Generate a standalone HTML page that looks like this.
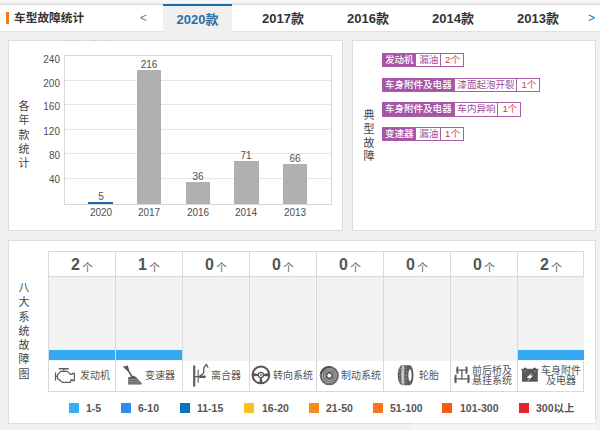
<!DOCTYPE html>
<html lang="zh-CN">
<head>
<meta charset="utf-8">
<title>车型故障统计</title>
<style>
*{margin:0;padding:0;box-sizing:border-box;}
html,body{width:600px;height:430px;overflow:hidden;background:#f0f0f0;}
body{position:relative;font-family:"Liberation Sans","Noto Sans CJK SC",sans-serif;color:#333;}
.abs{position:absolute;}
#topstrip{left:0;top:0;width:600px;height:4px;background:linear-gradient(#f6f6f6 0 3px,#e9e9e9 3px 4px);}
#topline{left:0;top:4px;width:600px;height:1px;background:#dcdcdc;}
#header{left:0;top:5px;width:600px;height:26px;background:#fff;}
#hline{left:0;top:31px;width:600px;height:1px;background:#e0e0e0;}
#obar{left:5.6px;top:12px;width:3.4px;height:12px;background:#ee7a1c;}
#title{left:14px;top:9px;font-size:11.7px;line-height:18px;font-weight:bold;color:#333;white-space:nowrap;}
.tab{top:5px;width:69px;height:26px;text-align:center;font-size:13px;line-height:28px;font-weight:bold;color:#333;white-space:nowrap;}
.tab.on{top:4px;height:28px;border-top:2px solid #1a6fb0;background:#f0f0f0;color:#2a6fa8;line-height:27px;}
.arrow{font-size:12px;line-height:14px;top:11px;}
.panel{background:#fff;border:1px solid #dcdcdc;}
.vlabel{font-size:11px;width:12px;text-align:center;color:#444;}
.vlabel span{display:block;}
/* chart */
.ylab{font-size:10px;line-height:10px;width:30px;text-align:right;color:#505050;}
.xlab{font-size:10px;line-height:10px;width:40px;text-align:center;color:#505050;}
.vlab{font-size:10px;line-height:10px;width:40px;text-align:center;color:#505050;}
.grid{left:65px;width:266px;height:1px;background:#e6e6e6;}
.bar{background:#b0b0b0;width:24.4px;}
/* tags */
.tag{height:14.4px;display:flex;font-size:9.56px;line-height:12.4px;white-space:nowrap;}
.tag span{display:block;height:14.4px;border:1px solid #a95ca8;}
.tag .a{background:#a854a6;color:#fff;padding:0 1.9px;font-weight:500;}
.tag .b{background:#fff;color:#9a4f9a;border-left:none;padding:0 1.75px 0 2.75px;}
.tag .c{background:#fff;color:#d03a34;border-left:none;padding:0 3.1px 0 4.1px;}
/* systems */
#sys{left:48px;top:251px;width:536px;height:141px;border:1px solid #d9d9d9;background:#fff;}
.col{top:0;width:67px;height:139px;border-right:1px solid #d9d9d9;}
.cnt{left:0;top:0;width:66px;height:25px;padding-left:0;border-bottom:1px solid #d9d9d9;text-align:center;white-space:nowrap;}
.cnt b{font-size:16px;line-height:25px;color:#555;}
.cnt i{font-style:normal;font-size:11px;color:#666;margin-left:2px;position:relative;top:1.5px;}
.dots{left:0;top:25px;width:66px;height:84px;background-color:#f8f8f8;
 background-image:linear-gradient(#f0f0f0 1px,transparent 1px),linear-gradient(90deg,#f0f0f0 1px,transparent 1px);background-size:2px 2px;}
.blue{left:0;top:98px;width:66px;height:10px;background:#36a9f4;}
.lab{font-size:10px;line-height:10px;color:#555;white-space:nowrap;}
.lg{top:403px;width:10px;height:10px;}
.lt{top:402px;font-size:10.5px;line-height:12px;font-weight:bold;color:#555;white-space:nowrap;}
</style>
</head>
<body>
<div class="abs" id="topstrip"></div>
<div class="abs" id="topline"></div>
<div class="abs" id="header"></div>
<div class="abs" id="hline"></div>
<div class="abs" id="obar"></div>
<div class="abs" id="title">车型故障统计</div>
<div class="abs arrow" style="left:140px;color:#7a7a7a;">&lt;</div>
<div class="abs tab on" style="left:163px;">2020款</div>
<div class="abs tab" style="left:248.5px;">2017款</div>
<div class="abs tab" style="left:333.5px;">2016款</div>
<div class="abs tab" style="left:418.5px;">2014款</div>
<div class="abs tab" style="left:503.5px;">2013款</div>
<div class="abs arrow" style="left:588px;color:#2a6fa8;">&gt;</div>

<!-- panel 1: chart -->
<div class="abs panel" style="left:8px;top:39.5px;width:335px;height:191.5px;"></div>
<div class="abs" style="left:67px;top:40px;width:46px;height:1px;background:linear-gradient(90deg,#cfcfcf 0 3px,transparent 3px 9px,#cfcfcf 9px 12px,transparent 12px 26px,#cfcfcf 26px 29px,transparent 29px 36px,#cfcfcf 36px 39px,transparent 39px);"></div>
<div class="abs vlabel" style="left:18px;top:99px;line-height:14.3px;"><span>各</span><span>年</span><span>款</span><span>统</span><span>计</span></div>
<div class="abs" style="left:64px;top:55px;width:268px;height:150px;border:1px solid #d8d8d8;"></div>
<div class="abs grid" style="top:80px;"></div>
<div class="abs grid" style="top:104px;"></div>
<div class="abs grid" style="top:129px;"></div>
<div class="abs grid" style="top:153px;"></div>
<div class="abs grid" style="top:178px;"></div>
<div class="abs ylab" style="left:30px;top:55px;">240</div>
<div class="abs ylab" style="left:30px;top:79px;">200</div>
<div class="abs ylab" style="left:30px;top:102px;">160</div>
<div class="abs ylab" style="left:30px;top:127px;">120</div>
<div class="abs ylab" style="left:30px;top:151px;">80</div>
<div class="abs ylab" style="left:30px;top:175px;">40</div>
<div class="abs bar" style="left:88.4px;top:201.6px;height:2.9px;background:#1b6fae;"></div>
<div class="abs bar" style="left:137px;top:70.4px;height:133.6px;"></div>
<div class="abs bar" style="left:185.6px;top:182.3px;height:21.7px;"></div>
<div class="abs bar" style="left:234.2px;top:160.8px;height:43.2px;"></div>
<div class="abs bar" style="left:282.7px;top:164px;height:40px;"></div>
<div class="abs vlab" style="left:81px;top:192px;">5</div>
<div class="abs vlab" style="left:129px;top:60px;">216</div>
<div class="abs vlab" style="left:178px;top:172px;">36</div>
<div class="abs vlab" style="left:226px;top:151px;">71</div>
<div class="abs vlab" style="left:275px;top:154px;">66</div>
<div class="abs xlab" style="left:81px;top:208px;">2020</div>
<div class="abs xlab" style="left:129px;top:208px;">2017</div>
<div class="abs xlab" style="left:178px;top:208px;">2016</div>
<div class="abs xlab" style="left:226px;top:208px;">2014</div>
<div class="abs xlab" style="left:275px;top:208px;">2013</div>

<!-- panel 2: typical faults -->
<div class="abs panel" style="left:352px;top:39.5px;width:244px;height:191.5px;"></div>
<div class="abs vlabel" style="left:363px;top:109px;line-height:13.8px;"><span>典</span><span>型</span><span>故</span><span>障</span></div>
<div class="abs tag" style="left:382px;top:53px;"><span class="a">发动机</span><span class="b">漏油</span><span class="c">2个</span></div>
<div class="abs tag" style="left:382px;top:77.5px;"><span class="a">车身附件及电器</span><span class="b">漆面起泡开裂</span><span class="c">1个</span></div>
<div class="abs tag" style="left:382px;top:102.2px;"><span class="a">车身附件及电器</span><span class="b">车内异响</span><span class="c">1个</span></div>
<div class="abs tag" style="left:382px;top:126.6px;"><span class="a">变速器</span><span class="b">漏油</span><span class="c">1个</span></div>

<!-- panel 3: eight systems -->
<div class="abs panel" style="left:8px;top:240px;width:588px;height:184px;"></div>
<div class="abs vlabel" style="left:18px;top:281px;line-height:14.3px;"><span>八</span><span>大</span><span>系</span><span>统</span><span>故</span><span>障</span><span>图</span></div>
<div class="abs" id="sys">
  <div class="abs col" style="left:0;"><div class="abs cnt"><b>2</b><i>个</i></div><div class="abs dots"></div><div class="abs blue"></div></div>
  <div class="abs col" style="left:67px;"><div class="abs cnt"><b>1</b><i>个</i></div><div class="abs dots"></div><div class="abs blue"></div></div>
  <div class="abs col" style="left:134px;"><div class="abs cnt"><b>0</b><i>个</i></div><div class="abs dots"></div></div>
  <div class="abs col" style="left:201px;"><div class="abs cnt"><b>0</b><i>个</i></div><div class="abs dots"></div></div>
  <div class="abs col" style="left:268px;"><div class="abs cnt"><b>0</b><i>个</i></div><div class="abs dots"></div></div>
  <div class="abs col" style="left:335px;"><div class="abs cnt"><b>0</b><i>个</i></div><div class="abs dots"></div></div>
  <div class="abs col" style="left:402px;"><div class="abs cnt"><b>0</b><i>个</i></div><div class="abs dots"></div></div>
  <div class="abs col" style="left:469px;border-right:none;width:65px;"><div class="abs cnt"><b>2</b><i>个</i></div><div class="abs dots"></div><div class="abs blue"></div></div>
</div>
<div class="abs lab" style="left:80px;top:371px;">发动机</div>
<div class="abs lab" style="left:145px;top:371px;">变速器</div>
<div class="abs lab" style="left:211px;top:371px;">离合器</div>
<div class="abs lab" style="left:273px;top:371px;">转向系统</div>
<div class="abs lab" style="left:341px;top:371px;">制动系统</div>
<div class="abs lab" style="left:419px;top:371px;">轮胎</div>
<div class="abs lab" style="left:472px;top:365.5px;">前后桥及<br>悬挂系统</div>
<div class="abs lab" style="left:541px;top:365.5px;text-align:center;">车身附件<br>及电器</div>


<!-- icons -->
<svg class="abs" style="left:48px;top:360px;" width="537" height="31" viewBox="48 360 537 31">
  <!-- engine -->
  <g fill="none" stroke="#5e5e5e" stroke-width="1.25" stroke-linejoin="round" stroke-linecap="round">
    <path d="M59.4 368.8H68.2" stroke-width="1.6"/>
    <path d="M63.8 369V371.2"/>
    <path d="M55.5 372.8V380"/>
    <path d="M55.6 376.4H57.4"/>
    <path d="M57.5 374.6L60.7 371.4H67.2L70.4 374.3H72.3V373.3H74.4V380.6H72.3V379.6H71.1L70.4 382.3H62.3L57.5 378.5Z"/>
  </g>
  <!-- gear lever -->
  <g fill="#585858" stroke="none">
    <path d="M122.8 366.7L127.8 365.4L129.2 370.4L127.4 370.9Z"/>
    <path d="M126.6 369.6L128.2 368.9L132.8 376.2L131.4 377Z"/>
    <path d="M128.2 377.6L133.4 375.8L136 377L141.6 383.2V384.6H128.2Z"/>
  </g>
  <g stroke="#b0b0b0" stroke-width="0.7">
    <path d="M128.4 379.4H137.4M128.4 381.2H139.4M128.4 383H141"/>
  </g>
  <!-- clutch -->
  <g fill="none" stroke="#5a5a5a" stroke-linecap="round" stroke-linejoin="round">
    <path d="M194.2 366.4V385.8" stroke-width="2.3" stroke="#666"/>
    <path d="M198.2 370.2V382.2" stroke-width="1.4" stroke="#808080"/>
    <path d="M194.5 376.6H200" stroke-width="1.2"/>
    <path d="M200 376.7H204.6" stroke-width="2.4"/>
    <path d="M200.4 375.6L203.6 373.2L203.9 367.6L206.3 364.4L207.9 367.2" stroke-width="1.3"/>
  </g>
  <!-- steering wheel -->
  <g fill="none" stroke="#555">
    <circle cx="260.9" cy="374.9" r="8.4" stroke-width="2"/>
    <circle cx="260.9" cy="374.9" r="2.6" stroke-width="1.2"/>
  </g>
  <g fill="#555" stroke="none">
    <circle cx="260.9" cy="374.9" r="0.9"/>
    <path d="M252.6 373L258.2 373.9V375.9L252.6 376.4Z"/>
    <path d="M269.2 373L263.6 373.9V375.9L269.2 376.4Z"/>
    <path d="M259.9 377.6H261.9L262.5 383.2H259.3Z"/>
  </g>
  <!-- brake disc -->
  <g>
    <circle cx="329.3" cy="375.6" r="9.6" fill="#6a6a6a"/>
    <path d="M319.9 373.4A9.6 9.6 0 0 1 331 366.1L330.5 368.9A6.8 6.8 0 0 0 322.7 374Z" fill="#4e4e4e"/>
    <circle cx="329.3" cy="375.6" r="7" fill="none" stroke="#bdbdbd" stroke-width="0.9"/>
    <circle cx="329.3" cy="375.6" r="4.9" fill="none" stroke="#c6c6c6" stroke-width="0.9"/>
    <circle cx="329.3" cy="375.6" r="4.4" fill="#747474"/>
    <circle cx="329.3" cy="375.6" r="1.8" fill="#fff"/>
    <g fill="#3c3c3c"><circle cx="329.3" cy="372.5" r="0.65"/><circle cx="332" cy="374.1" r="0.65"/><circle cx="332" cy="377.2" r="0.65"/><circle cx="329.3" cy="378.7" r="0.65"/><circle cx="326.6" cy="377.2" r="0.65"/><circle cx="326.6" cy="374.1" r="0.65"/></g>
  </g>
  <!-- tire -->
  <g>
    <path d="M402.2 365.2H409.8V385.2H402.2A4.5 10 0 0 1 402.2 365.2Z" fill="#5e5e5e"/>
    <path d="M402.4 365.7H404.3V384.7H402.4A1.3 9.5 0 0 1 402.4 365.7Z" fill="#c2c2c2"/>
    <ellipse cx="409.9" cy="375.2" rx="3.6" ry="10" fill="#5e5e5e"/>
    <ellipse cx="410" cy="375.3" rx="1.6" ry="6" fill="#fff"/>
    <g stroke="#b4b4b4" stroke-width="0.8"><path d="M399.4 368.6H400.6M398.9 372H400.1M398.7 375.4H399.9M398.9 378.8H400.1M399.4 382H400.6M405.2 368.2H406.6M405.5 371.7H406.9M405.6 375.2H407M405.5 378.7H406.9M405.2 382.2H406.6"/></g>
  </g>
  <!-- axle -->
  <g fill="none" stroke="#5e5e5e" stroke-linecap="round">
    <path d="M457.5 367.5Q456.7 370.2 457.5 372.9" stroke-width="2"/>
    <path d="M466.4 367.5Q467.2 370.2 466.4 372.9" stroke-width="2"/>
    <path d="M455.7 375.6Q454.8 379 455.7 382.2" stroke-width="2.1"/>
    <path d="M468.3 375.6Q469.2 379 468.3 382.2" stroke-width="2.1"/>
    <path d="M457.6 370.2H466.3" stroke-width="1.3"/>
    <path d="M455.8 378.9H468.2" stroke-width="1.3"/>
    <path d="M461.9 370.2V378.9" stroke-width="1.3"/>
  </g>
  <!-- battery -->
  <g>
    <rect x="522" y="369.3" width="15.8" height="12.4" fill="#585858"/>
    <rect x="521.2" y="368.8" width="17.4" height="1.1" fill="#585858"/>
    <rect x="523.8" y="367.8" width="2.8" height="1.4" fill="#585858"/>
    <rect x="533.2" y="367.8" width="2.8" height="1.4" fill="#585858"/>
    <rect x="524.2" y="370.6" width="1.6" height="1.6" fill="#8c8c8c"/>
    <rect x="534" y="370.6" width="1.6" height="1.6" fill="#8c8c8c"/>
    <path d="M532 372.5L526.6 378H529.5L527.6 381.4L533 375.6H530.2Z" fill="#fff"/>
  </g>
</svg>

<!-- legend -->
<div class="abs lg" style="left:69px;background:#36acf5;"></div><div class="abs lt" style="left:86px;">1-5</div>
<div class="abs lg" style="left:121px;background:#2d8cf0;"></div><div class="abs lt" style="left:138px;">6-10</div>
<div class="abs lg" style="left:180px;background:#0a72c0;"></div><div class="abs lt" style="left:197px;">11-15</div>
<div class="abs lg" style="left:244px;background:#fcc21c;"></div><div class="abs lt" style="left:262px;">16-20</div>
<div class="abs lg" style="left:309px;background:#f78a20;"></div><div class="abs lt" style="left:326px;">21-50</div>
<div class="abs lg" style="left:373px;background:#f9741e;"></div><div class="abs lt" style="left:390px;">51-100</div>
<div class="abs lg" style="left:442px;background:#f75c12;"></div><div class="abs lt" style="left:460px;">101-300</div>
<div class="abs lg" style="left:519px;background:#e8222c;"></div><div class="abs lt" style="left:536px;">300以上</div>
<div class="abs" style="left:412px;top:419px;width:184px;height:11px;background:rgba(255,255,255,0.35);"></div>
</body>
</html>
